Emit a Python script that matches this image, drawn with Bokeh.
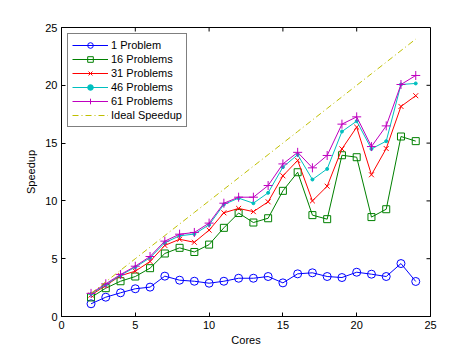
import math
from bokeh.plotting import figure
from bokeh.models import Range1d, FixedTicker, Legend
from bokeh.embed import file_html
from bokeh.resources import INLINE

cores = [2, 3, 4, 5, 6, 7, 8, 9, 10, 11, 12, 13, 14, 15, 16, 17, 18, 19, 20, 21, 22, 23, 24]
p1 = [1.1, 1.67, 2.05, 2.4, 2.54, 3.49, 3.14, 3.05, 2.88, 3.05, 3.31, 3.31, 3.46, 2.91, 3.69, 3.78, 3.46, 3.37, 3.83, 3.66, 3.46, 4.58, 3.03]
p16 = [1.65, 2.45, 3.05, 3.46, 4.18, 5.45, 5.94, 5.58, 6.22, 7.67, 8.95, 8.13, 8.5, 10.87, 12.48, 8.77, 8.42, 13.95, 13.78, 8.6, 9.28, 15.57, 15.17]
p31 = [1.85, 2.68, 3.53, 3.92, 4.76, 6.15, 6.68, 6.42, 7.47, 8.97, 9.35, 9.07, 9.92, 12.17, 13.5, 10.0, 11.27, 14.5, 16.38, 12.26, 14.53, 18.17, 19.1]
p46 = [1.95, 2.75, 3.57, 4.27, 5.08, 6.38, 6.98, 7.13, 7.93, 9.69, 10.24, 9.8, 10.7, 12.92, 14.0, 11.85, 12.77, 16.0, 16.9, 14.5, 15.17, 20.07, 20.16]
p61 = [2.0, 2.83, 3.63, 4.35, 5.19, 6.52, 7.12, 7.27, 8.08, 9.8, 10.32, 10.32, 11.33, 13.2, 14.2, 12.86, 13.93, 16.64, 17.27, 14.7, 16.49, 20.07, 20.85]
ideal = [2, 3, 4, 5, 6, 7, 8, 9, 10, 11, 12, 13, 14, 15, 16, 17, 18, 19, 20, 21, 22, 23, 24]
ticks = [0, 5, 10, 15, 20, 25]

FONT = "Liberation Sans"
XMAX = 25
YMAX = 25

p = figure(width=462, height=348, output_backend="svg", toolbar_location=None,
           x_range=Range1d(0, XMAX), y_range=Range1d(0, YMAX),
           min_border_left=61, min_border_right=32, min_border_top=27, min_border_bottom=32)
p.xgrid.visible = False
p.ygrid.visible = False
p.outline_line_color = "black"
p.outline_line_width = 1
p.background_fill_color = "white"
p.border_fill_color = "white"

for ax in (p.xaxis[0], p.yaxis[0]):
    ax.ticker = FixedTicker(ticks=ticks)
    ax.major_tick_in = 4
    ax.major_tick_out = 0
    ax.minor_tick_line_color = None
    ax.axis_line_color = "black"
    ax.major_tick_line_color = "black"
    ax.major_label_text_font = FONT
    ax.major_label_text_color = "black"
    ax.major_label_text_font_size = "11px"
    ax.major_label_standoff = 4
    ax.axis_label_text_font = FONT
    ax.axis_label_text_font_size = "11px"
    ax.axis_label_text_font_style = "normal"
    ax.axis_label_text_color = "black"
p.xaxis[0].axis_label = "Cores"
p.yaxis[0].axis_label = "Speedup"
p.xaxis[0].axis_label_standoff = 2
p.yaxis[0].axis_label_standoff = 5

# inward ticks on top and right edges (box on)
p.ray(x=ticks, y=[YMAX] * len(ticks), length=4, length_units="screen",
      angle=-math.pi / 2, line_color="black", line_width=1)
p.ray(x=[XMAX] * len(ticks), y=ticks, length=4, length_units="screen",
      angle=math.pi, line_color="black", line_width=1)

series = [
    ("1 Problem", p1, "#0000ff", "circle", 8, False),
    ("16 Problems", p16, "#008000", "square", 7, False),
    ("31 Problems", p31, "#ff0000", "x", 7, False),
    ("46 Problems", p46, "#00bfbf", "circle", 3, True),
    ("61 Problems", p61, "#bf00bf", "cross", 9, False),
]
items = []
for label, ys, col, mk, sz, filled in series:
    r1 = p.line(cores, ys, line_color=col, line_width=1)
    r2 = p.scatter(cores, ys, marker=mk, size=sz, line_color=col, line_width=1,
                   fill_color=col if filled else None)
    items.append((label, [r1, r2]))
r3 = p.line(cores, ideal, line_color="#bfbf00", line_width=1, line_dash="6 3 1 3")
items.append(("Ideal Speedup", [r3]))

leg = Legend(items=items, location="top_left")
leg.margin = 6
leg.padding = 4
leg.spacing = 0
leg.glyph_width = 36
leg.glyph_height = 14
leg.label_height = 14
leg.label_standoff = 3
leg.label_text_font = FONT
leg.label_text_font_size = "11px"
leg.label_text_color = "black"
leg.border_line_color = "black"
leg.border_line_width = 1
leg.background_fill_color = "white"
leg.background_fill_alpha = 1
p.add_layout(leg, "center")

open("out.html", "w").write(file_html(p, INLINE))
